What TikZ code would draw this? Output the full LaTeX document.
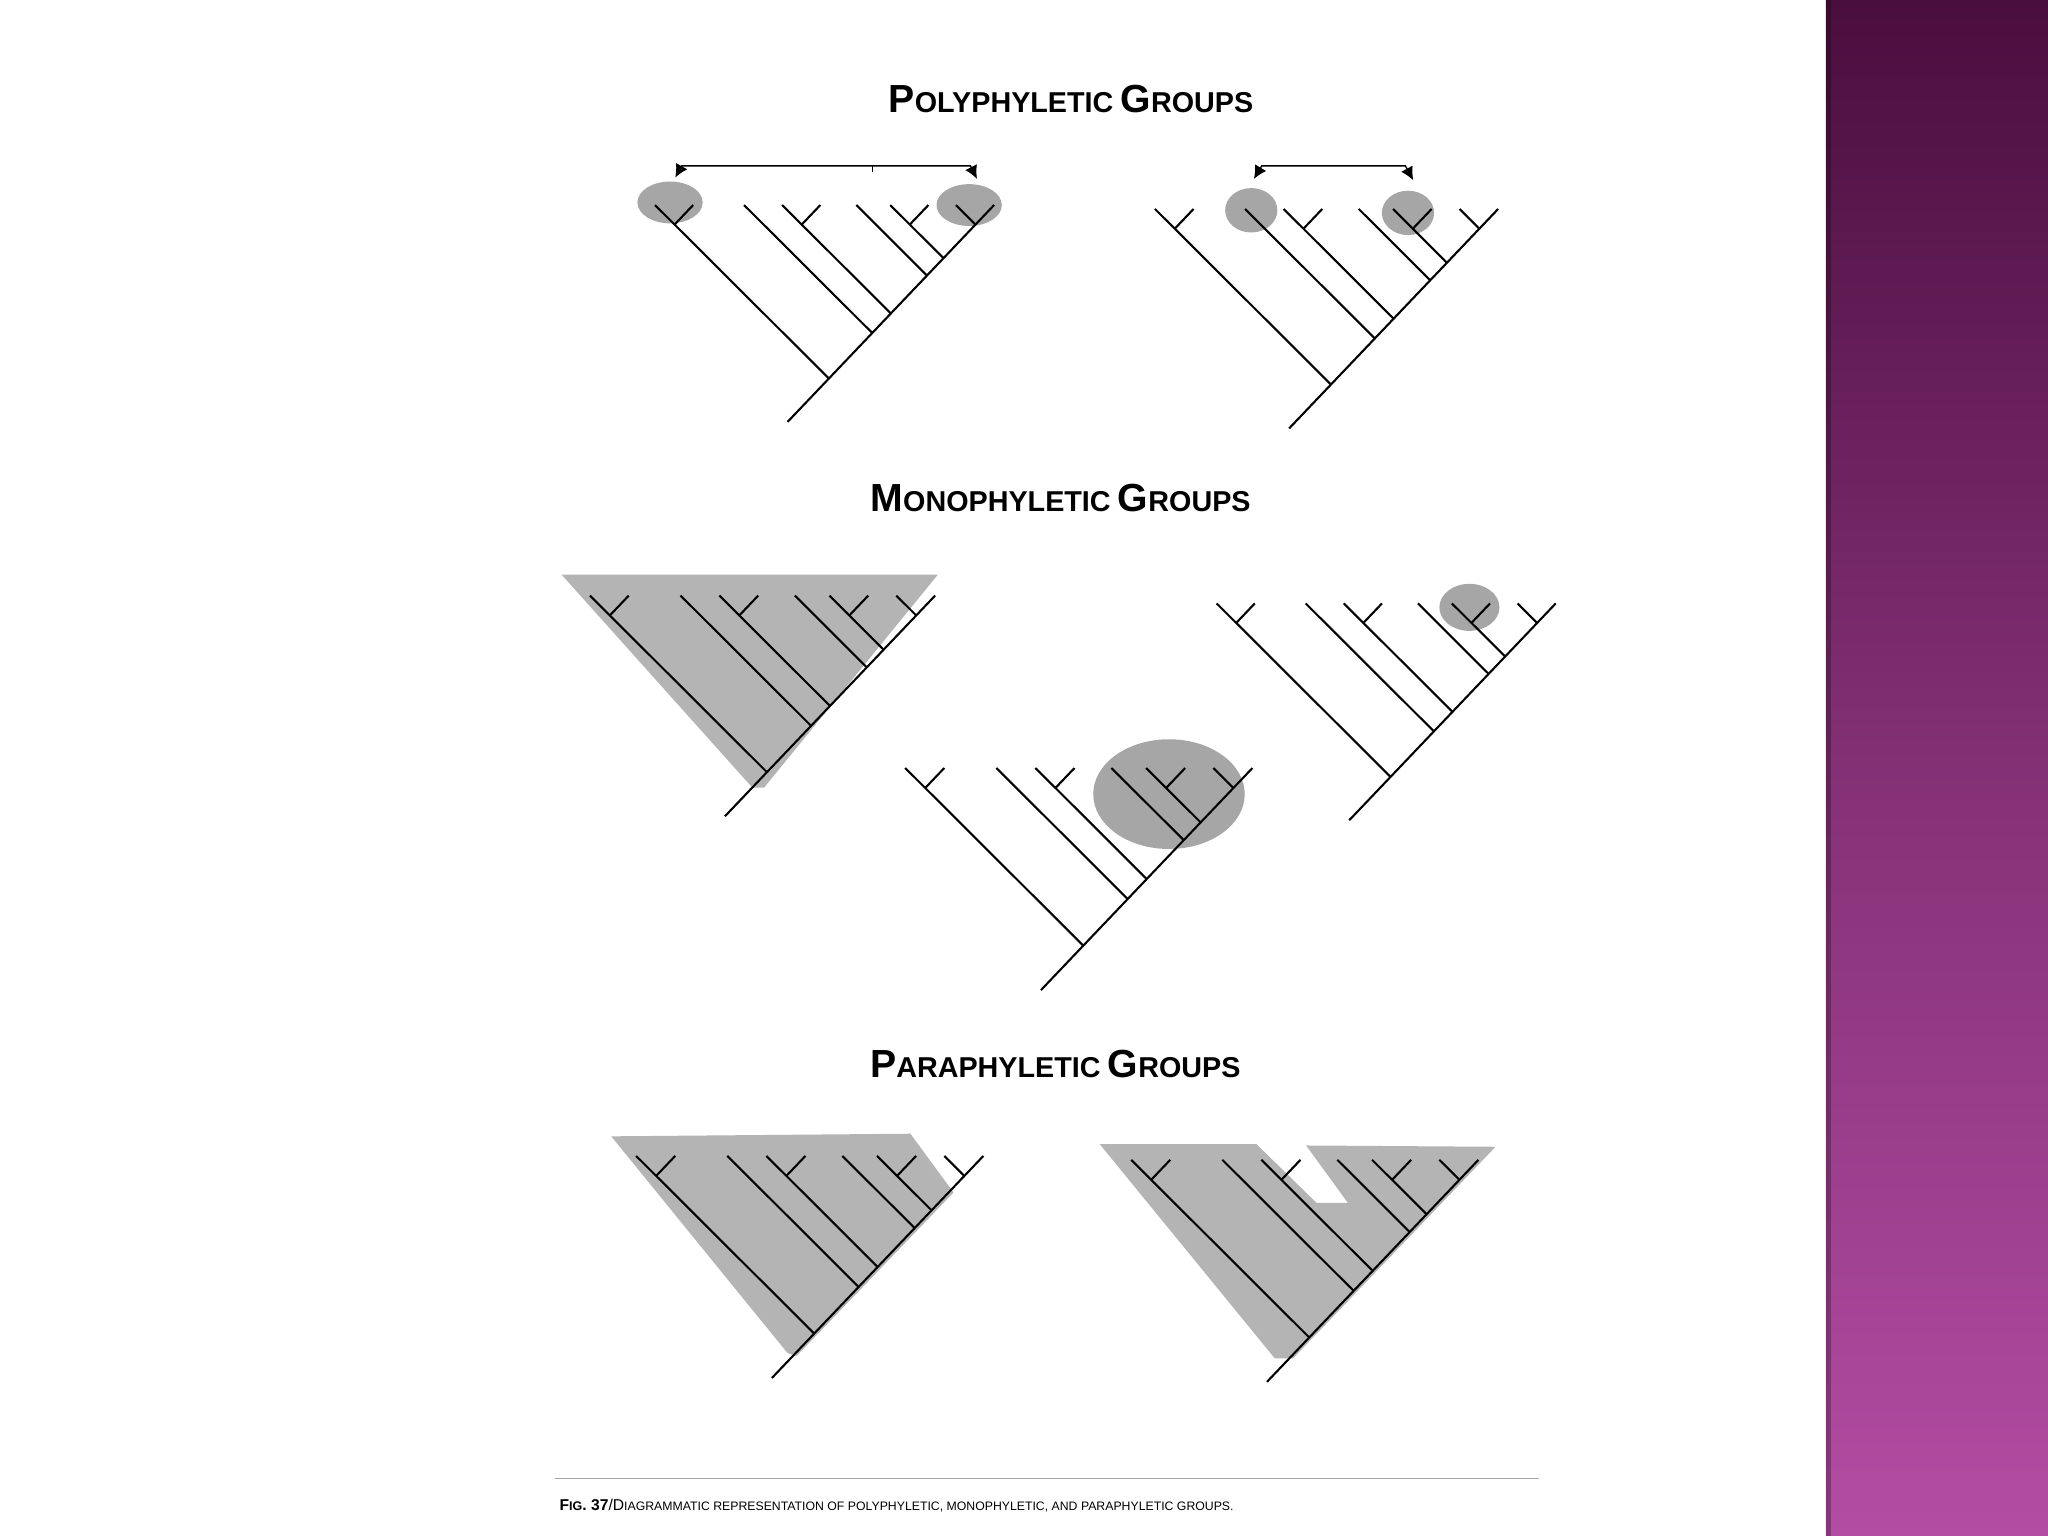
\documentclass[tikz,border=0pt]{standalone}
\usepackage{fontspec}
\setmainfont{Liberation Sans}
\usetikzlibrary{arrows.meta}
\definecolor{grayfill}{HTML}{B4B4B4}
\definecolor{pdark}{HTML}{4A0E3E}
\definecolor{plight}{HTML}{B34CA3}
\def\slp{1.05}
\newcommand\phytree[3]{%
  \pgfmathsetmacro\HH{#2-#3}%
  \draw[tl] (#1,#2) -- ({#1+\HH/\slp},#3);
  \foreach \fr/\ch in {0.80/1,0.59/0,0.50/1,0.325/0,0.245/1,0.09/0}{
    \pgfmathsetmacro\py{#3+\fr*\HH}
    \pgfmathsetmacro\px{#1+(#2-\py)/\slp}
    \draw[tl] (\px,\py) -- ({\px-(\py-#3)/(\slp*0.95)},#3);
    \ifnum\ch=1
      \pgfmathsetmacro\cy{#3+0.09*\HH}
      \pgfmathsetmacro\cx{\px-(\py-\cy)/(\slp*0.95)}
      \draw[tl] (\cx,\cy) -- ({\cx+(\cy-#3)/\slp},#3);
    \fi
  }}
\newcommand\ttl[2]{\textbf{{\fontsize{15}{15}\selectfont #1}{\fontsize{11}{11}\selectfont #2}}}
\begin{document}
\begin{tikzpicture}[x=0.5pt,y=-0.5pt,
  tl/.style={line width=0.8pt,black},
  blob/.style={fill=grayfill!92!black},
  zone/.style={fill=grayfill},
  arr/.style={line width=0.5pt,{Latex[length=5pt,width=5pt]}-{Latex[length=5pt,width=5pt]}}]
\useasboundingbox (0,0) rectangle (1568,1176);
\fill[white] (0,0) rectangle (1568,1176);
% purple strip
\shade[top color=pdark,bottom color=plight,middle color=pdark!45!plight] (1398,0) rectangle (1568,1176);
\fill[black,opacity=0.25] (1398,0) rectangle (1402,1176);

% titles
\node (t1) at (820,76) {\ttl{P}{OLYPHYLETIC} \ttl{G}{ROUPS}};
\node (t2) at (812,381) {\ttl{M}{ONOPHYLETIC} \ttl{G}{ROUPS}};
\node (t3) at (808,815) {\ttl{P}{ARAPHYLETIC} \ttl{G}{ROUPS}};

% polyphyletic
\fill[blob] (513,155) ellipse (25 and 16);
\fill[blob] (742,157) ellipse (25 and 16);
\phytree{603}{323}{157}
\coordinate (a1) at (517,136); \coordinate (a2) at (522,127);
\coordinate (a3) at (743,127); \coordinate (a4) at (748,137);
\draw[arr] (a1) -- (a2) -- (a3) -- (a4);
\draw[line width=0.5pt] (668,127) -- (668,132);

\fill[blob] (958,161) ellipse (20 and 17);
\fill[blob] (1078,163) ellipse (20 and 17);
\phytree{987}{328}{160}
\coordinate (b1) at (960,137); \coordinate (b2) at (966,127);
\coordinate (b3) at (1076,127); \coordinate (b4) at (1082,138);
\draw[arr] (b1) -- (b2) -- (b3) -- (b4);

% monophyletic
\fill[zone] (430,440) -- (718,440) -- (585,603) -- (576,603) -- cycle;
\phytree{555}{625}{456}
\fill[blob] (895,608) ellipse (58 and 42);
\phytree{797}{758}{588}
\fill[blob] (1125,465) ellipse (23 and 18);
\phytree{1033}{628}{462}

% paraphyletic
\fill[zone] (468,870) -- (697,868) -- (730,913) -- (610,1038) -- (603,1036) -- cycle;
\phytree{591}{1055}{885}
\fill[zone] (842,876) -- (962,876) -- (1008,921) -- (1032,921) -- (1000,877) -- (1145,878) -- (990,1040) -- (976,1040) -- cycle;
\phytree{970}{1058}{888}

% caption
\draw[gray!70,line width=0.6pt] (425,1132) -- (1178,1132);
\node[anchor=west,inner sep=0] (cap) at (428,1153) {\fontsize{6}{6}\selectfont\textbf{F{\fontsize{4.8}{5}\selectfont IG}. 37}/D{\fontsize{4.7}{5}\selectfont IAGRAMMATIC REPRESENTATION OF POLYPHYLETIC, MONOPHYLETIC, AND PARAPHYLETIC GROUPS.}};
\end{tikzpicture}
\end{document}
